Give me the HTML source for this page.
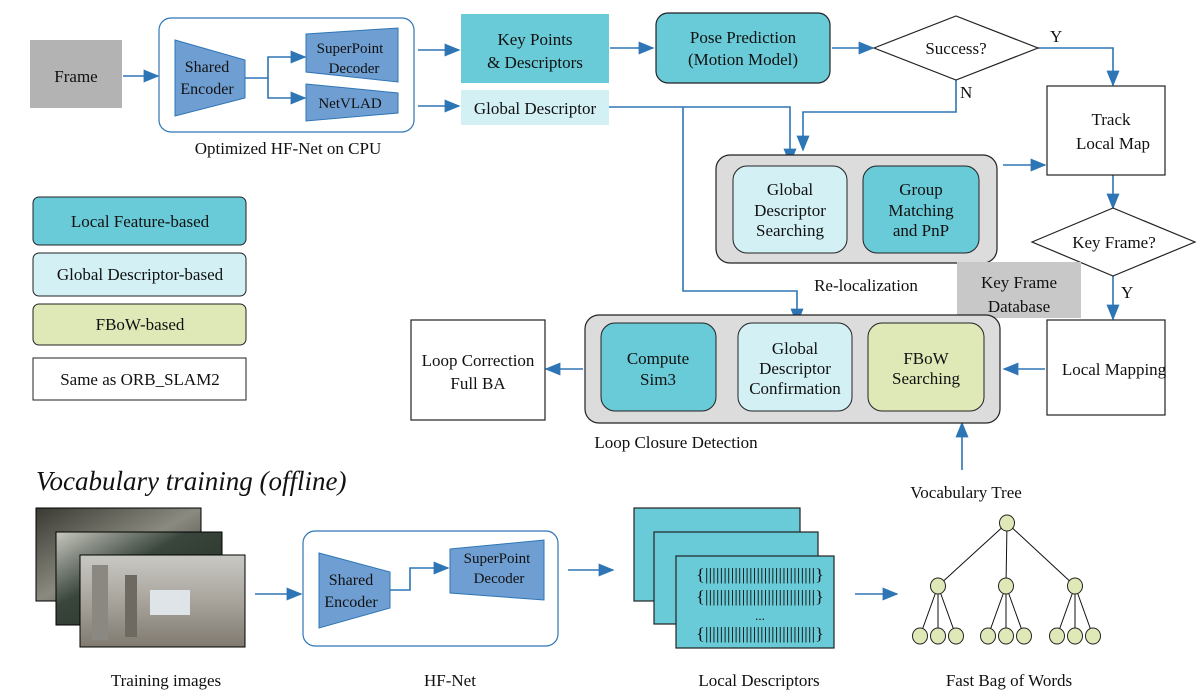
<!DOCTYPE html>
<html><head><meta charset="utf-8"><style>
html,body{margin:0;padding:0;background:#fff}
svg{display:block}
text{font-family:"Liberation Serif",serif;font-size:17px;fill:#111}
.s15{font-size:16px}
.s13{font-size:15px}
</style></head><body>
<svg width="1198" height="700" viewBox="0 0 1198 700" xmlns="http://www.w3.org/2000/svg">
<defs>
<marker id="b" viewBox="0 0 10 10" refX="9" refY="5" markerWidth="16" markerHeight="13" orient="auto" markerUnits="userSpaceOnUse" preserveAspectRatio="none"><path d="M0,0 L10,5 L0,10 z" fill="#2e75b6"/></marker>
<linearGradient id="img1" x1="0" y1="0" x2="1" y2="1"><stop offset="0" stop-color="#3a3a33"/><stop offset="0.5" stop-color="#8a8a80"/><stop offset="1" stop-color="#2a2a25"/></linearGradient>
<linearGradient id="img2" x1="0" y1="0" x2="1" y2="1"><stop offset="0" stop-color="#c8c8c0"/><stop offset="0.4" stop-color="#3a463c"/><stop offset="1" stop-color="#1e2820"/></linearGradient>
<linearGradient id="img3" x1="0" y1="0" x2="0" y2="1"><stop offset="0" stop-color="#c9c9c4"/><stop offset="0.5" stop-color="#a8a49c"/><stop offset="1" stop-color="#807a70"/></linearGradient>
</defs>
<g stroke="#2e75b6" stroke-width="1.6" fill="none">
<line x1="123" y1="76" x2="158" y2="76" marker-end="url(#b)"/>
<polyline points="245,78 268,78 268,57 305,57" marker-end="url(#b)"/>
<polyline points="268,78 268,98 305,98" marker-end="url(#b)"/>
<line x1="418" y1="50" x2="459" y2="50" marker-end="url(#b)"/>
<line x1="418" y1="106" x2="459" y2="106" marker-end="url(#b)"/>
<line x1="610" y1="48" x2="653" y2="48" marker-end="url(#b)"/>
<line x1="832" y1="48" x2="873" y2="48" marker-end="url(#b)"/>
<polyline points="1038,48 1113,48 1113,85" marker-end="url(#b)"/>
<polyline points="956,80 956,112 803,112 803,150" marker-end="url(#b)"/>
<polyline points="609,107 790,107 790,163" marker-end="url(#b)"/>
<polyline points="683,107 683,291 797,291 797,323" marker-end="url(#b)"/>
<line x1="1003" y1="165" x2="1045" y2="165" marker-end="url(#b)"/>
<line x1="1113" y1="175" x2="1113" y2="208" marker-end="url(#b)"/>
<line x1="1113" y1="276" x2="1113" y2="319" marker-end="url(#b)"/>
<line x1="1045" y1="369" x2="1004" y2="369" marker-end="url(#b)"/>
<line x1="583" y1="369" x2="546" y2="369" marker-end="url(#b)"/>
<line x1="962" y1="470" x2="962" y2="423" marker-end="url(#b)"/>
<line x1="255" y1="594" x2="301" y2="594" marker-end="url(#b)"/>
<polyline points="390,590 410,590 410,568 448,568" marker-end="url(#b)"/>
<line x1="568" y1="570" x2="613" y2="570" marker-end="url(#b)"/>
<line x1="855" y1="594" x2="897" y2="594" marker-end="url(#b)"/>
</g>

<rect x="30" y="40" width="92" height="68" fill="#b3b3b3"/>
<text x="76" y="82" text-anchor="middle">Frame</text>
<rect x="159" y="18" width="255" height="114" rx="12" fill="none" stroke="#2e75b6" stroke-width="1.2"/>
<polygon points="175,40 245,60 245,98 175,116" fill="#6f9fd2" stroke="#2e75b6"/>
<text x="207" y="72" text-anchor="middle" class="s15">Shared</text>
<text x="207" y="94" text-anchor="middle" class="s15">Encoder</text>
<polygon points="306,34 398,28 398,82 306,72" fill="#6f9fd2" stroke="#2e75b6"/>
<text x="350" y="53" text-anchor="middle" class="s13">SuperPoint</text>
<text x="354" y="73" text-anchor="middle" class="s13">Decoder</text>
<polygon points="306,84 398,93 398,113 306,121" fill="#6f9fd2" stroke="#2e75b6"/>
<text x="350" y="108" text-anchor="middle" class="s13">NetVLAD</text>
<text x="288" y="154" text-anchor="middle">Optimized HF-Net on CPU</text>

<rect x="461" y="14" width="148" height="69" fill="#69cbd8"/>
<text x="535" y="45" text-anchor="middle">Key Points</text>
<text x="535" y="68" text-anchor="middle">&amp; Descriptors</text>
<rect x="461" y="90" width="148" height="35" fill="#d3f1f5"/>
<text x="535" y="114" text-anchor="middle">Global Descriptor</text>

<rect x="656" y="13" width="174" height="70" rx="12" fill="#69cbd8" stroke="#222" stroke-width="1.2"/>
<text x="743" y="43" text-anchor="middle">Pose Prediction</text>
<text x="743" y="65" text-anchor="middle">(Motion Model)</text>

<polygon points="874,48 956,16 1038,48 956,80" fill="#fff" stroke="#222" stroke-width="1.2"/>
<text x="956" y="54" text-anchor="middle">Success?</text>
<text x="1050" y="42">Y</text>
<text x="960" y="98">N</text>

<rect x="1047" y="86" width="118" height="89" fill="#fff" stroke="#222" stroke-width="1.2"/>
<text x="1111" y="125" text-anchor="middle">Track</text>
<text x="1113" y="149" text-anchor="middle">Local Map</text>

<polygon points="1032,242 1113,208 1195,242 1113,276" fill="#fff" stroke="#222" stroke-width="1.2"/>
<text x="1114" y="248" text-anchor="middle">Key Frame?</text>
<text x="1121" y="298">Y</text>

<rect x="716" y="155" width="281" height="108" rx="14" fill="#dcdcdc" stroke="#222" stroke-width="1.2"/>
<rect x="733" y="166" width="114" height="87" rx="14" fill="#d3f1f5" stroke="#222"/>
<text x="790" y="195" text-anchor="middle">Global</text>
<text x="790" y="216" text-anchor="middle">Descriptor</text>
<text x="790" y="236" text-anchor="middle">Searching</text>
<rect x="863" y="166" width="116" height="87" rx="14" fill="#69cbd8" stroke="#222"/>
<text x="921" y="195" text-anchor="middle">Group</text>
<text x="921" y="216" text-anchor="middle">Matching</text>
<text x="921" y="236" text-anchor="middle">and PnP</text>
<text x="866" y="291" text-anchor="middle">Re-localization</text>

<rect x="957" y="262" width="124" height="56" fill="#c8c8c8"/>
<text x="1019" y="288" text-anchor="middle">Key Frame</text>
<text x="1019" y="312" text-anchor="middle">Database</text>

<rect x="585" y="315" width="415" height="108" rx="14" fill="#dcdcdc" stroke="#222" stroke-width="1.2"/>
<rect x="601" y="323" width="115" height="88" rx="14" fill="#69cbd8" stroke="#222"/>
<text x="658" y="364" text-anchor="middle">Compute</text>
<text x="658" y="385" text-anchor="middle">Sim3</text>
<rect x="738" y="323" width="114" height="88" rx="14" fill="#d3f1f5" stroke="#222"/>
<text x="795" y="354" text-anchor="middle">Global</text>
<text x="795" y="374" text-anchor="middle">Descriptor</text>
<text x="795" y="394" text-anchor="middle">Confirmation</text>
<rect x="868" y="323" width="116" height="88" rx="14" fill="#dfe9b7" stroke="#222"/>
<text x="926" y="364" text-anchor="middle">FBoW</text>
<text x="926" y="384" text-anchor="middle">Searching</text>
<text x="676" y="448" text-anchor="middle">Loop Closure Detection</text>

<rect x="411" y="320" width="134" height="100" fill="#fff" stroke="#222" stroke-width="1.2"/>
<text x="478" y="366" text-anchor="middle">Loop Correction</text>
<text x="478" y="389" text-anchor="middle">Full BA</text>

<rect x="1047" y="320" width="118" height="95" fill="#fff" stroke="#222" stroke-width="1.2"/>
<text x="1114" y="375" text-anchor="middle">Local Mapping</text>
<text x="966" y="498" text-anchor="middle">Vocabulary Tree</text>

<rect x="33" y="197" width="213" height="48" rx="6" fill="#69cbd8" stroke="#222"/>
<text x="140" y="227" text-anchor="middle">Local Feature-based</text>
<rect x="33" y="253" width="213" height="43" rx="6" fill="#d3f1f5" stroke="#222"/>
<text x="140" y="280" text-anchor="middle">Global Descriptor-based</text>
<rect x="33" y="304" width="213" height="41" rx="6" fill="#dfe9b7" stroke="#222"/>
<text x="140" y="330" text-anchor="middle">FBoW-based</text>
<rect x="33" y="358" width="213" height="42" fill="#fff" stroke="#222"/>
<text x="140" y="385" text-anchor="middle">Same as ORB_SLAM2</text>

<text x="36" y="490" style="font-size:27px;font-style:italic">Vocabulary training (offline)</text>

<rect x="36" y="508" width="165" height="93" fill="url(#img1)" stroke="#000"/>
<rect x="56" y="532" width="166" height="93" fill="url(#img2)" stroke="#000"/>
<rect x="80" y="555" width="165" height="92" fill="url(#img3)" stroke="#000"/>
<rect x="92" y="565" width="16" height="75" fill="#8a8880"/>
<rect x="125" y="575" width="12" height="62" fill="#6e6a62"/>
<rect x="150" y="590" width="40" height="25" fill="#dfe4e8"/>
<text x="166" y="686" text-anchor="middle">Training images</text>

<rect x="303" y="531" width="255" height="115" rx="12" fill="none" stroke="#2e75b6" stroke-width="1.2"/>
<polygon points="319,553 390,572 390,608 319,628" fill="#6f9fd2" stroke="#2e75b6"/>
<text x="351" y="585" text-anchor="middle" class="s15">Shared</text>
<text x="351" y="607" text-anchor="middle" class="s15">Encoder</text>
<polygon points="450,549 544,540 544,600 450,593" fill="#6f9fd2" stroke="#2e75b6"/>
<text x="497" y="563" text-anchor="middle" class="s13">SuperPoint</text>
<text x="499" y="583" text-anchor="middle" class="s13">Decoder</text>
<text x="450" y="686" text-anchor="middle">HF-Net</text>

<rect x="634" y="508" width="166" height="93" fill="#69cbd8" stroke="#222" stroke-width="1.2"/>
<rect x="654" y="532" width="164" height="92" fill="#69cbd8" stroke="#222" stroke-width="1.2"/>
<rect x="676" y="556" width="158" height="92" fill="#69cbd8" stroke="#222" stroke-width="1.2"/>
<text x="696" y="580" textLength="128" lengthAdjust="spacingAndGlyphs" style="font-size:17px">{||||||||||||||||||||||||||||||}</text>
<text x="696" y="602" textLength="128" lengthAdjust="spacingAndGlyphs" style="font-size:17px">{||||||||||||||||||||||||||||||}</text>
<text x="760" y="620" text-anchor="middle" style="font-size:13px">...</text>
<text x="696" y="639" textLength="128" lengthAdjust="spacingAndGlyphs" style="font-size:17px">{||||||||||||||||||||||||||||||}</text>
<text x="759" y="686" text-anchor="middle">Local Descriptors</text>

<g stroke="#111" stroke-width="1">
<line x1="1007" y1="523" x2="938" y2="586"/><line x1="1007" y1="523" x2="1006" y2="586"/><line x1="1007" y1="523" x2="1075" y2="586"/>
<line x1="938" y1="586" x2="920" y2="636"/><line x1="938" y1="586" x2="938" y2="636"/><line x1="938" y1="586" x2="956" y2="636"/>
<line x1="1006" y1="586" x2="988" y2="636"/><line x1="1006" y1="586" x2="1006" y2="636"/><line x1="1006" y1="586" x2="1024" y2="636"/>
<line x1="1075" y1="586" x2="1057" y2="636"/><line x1="1075" y1="586" x2="1075" y2="636"/><line x1="1075" y1="586" x2="1093" y2="636"/>
</g>
<g fill="#dfe9b7" stroke="#222">
<ellipse cx="1007" cy="523" rx="7.5" ry="8"/>
<ellipse cx="938" cy="586" rx="7.5" ry="8"/><ellipse cx="1006" cy="586" rx="7.5" ry="8"/><ellipse cx="1075" cy="586" rx="7.5" ry="8"/>
<ellipse cx="920" cy="636" rx="7.5" ry="8"/><ellipse cx="938" cy="636" rx="7.5" ry="8"/><ellipse cx="956" cy="636" rx="7.5" ry="8"/>
<ellipse cx="988" cy="636" rx="7.5" ry="8"/><ellipse cx="1006" cy="636" rx="7.5" ry="8"/><ellipse cx="1024" cy="636" rx="7.5" ry="8"/>
<ellipse cx="1057" cy="636" rx="7.5" ry="8"/><ellipse cx="1075" cy="636" rx="7.5" ry="8"/><ellipse cx="1093" cy="636" rx="7.5" ry="8"/>
</g>
<text x="1009" y="686" text-anchor="middle">Fast Bag of Words</text>
</svg>
</body></html>
